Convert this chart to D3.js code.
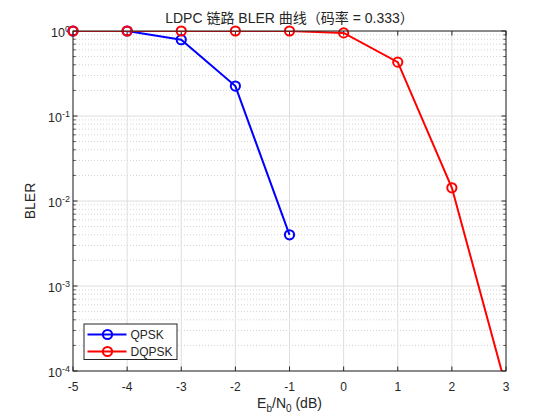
<!DOCTYPE html>
<html>
<head>
<meta charset="utf-8">
<script src="https://cdn.jsdelivr.net/npm/d3@7"></script>
<style>
  html, body { margin: 0; padding: 0; background: #fff; }
  svg { display: block; }
  text { font-family: "Liberation Sans", Arial, "Noto Sans CJK SC", sans-serif; fill: #262626; }
</style>
</head>
<body>
<div id="chart"></div>
<script>
// LDPC BLER curves, log-y plot
const ebn0 = [-5, -4, -3, -2, -1, 0, 1, 2, 3];
const qpsk = [1, 1, 0.79, 0.225, 0.0040];
const dqpsk = [1, 1, 1, 1, 1, 0.95, 0.43, 0.0143, 6.5e-5];
const xTicks = [-5, -4, -3, -2, -1, 0, 1, 2, 3];
const yDecades = [0, -1, -2, -3, -4];
const seriesNames = ["QPSK", "DQPSK"];
const seriesColors = ["#0000ff", "#ff0000"];

(function () {
  const W = 560, H = 420;
  const m = { l: 73, r: 54, t: 31, b: 49 };
  const pw = W - m.l - m.r, ph = H - m.t - m.b;

  const svg = d3.select("#chart").append("svg")
    .attr("width", W).attr("height", H);

  svg.append("defs").append("clipPath").attr("id", "plotClip")
    .append("rect").attr("width", pw).attr("height", ph);

  const g = svg.append("g").attr("transform", `translate(${m.l},${m.t})`);

  const x = d3.scaleLinear().domain([-5, 3]).range([0, pw]);
  const y = d3.scaleLog().domain([1e-4, 1]).range([ph, 0]);

  const minorVals = [];
  yDecades.slice(1).forEach(e => {
    for (let k = 2; k <= 9; k++) minorVals.push(k * Math.pow(10, e));
  });

  // minor grid (dotted)
  g.selectAll(".ymg").data(minorVals).join("line")
    .attr("x1", 0).attr("x2", pw)
    .attr("y1", d => y(d)).attr("y2", d => y(d))
    .attr("stroke", "#c8c8c8").attr("stroke-width", 0.8)
    .attr("stroke-dasharray", "1,2");

  // major grid
  g.selectAll(".xg").data(xTicks).join("line")
    .attr("x1", d => x(d)).attr("x2", d => x(d))
    .attr("y1", 0).attr("y2", ph)
    .attr("stroke", "#dedede").attr("stroke-width", 1);
  g.selectAll(".yg").data(yDecades.map(e => Math.pow(10, e))).join("line")
    .attr("x1", 0).attr("x2", pw)
    .attr("y1", d => y(d)).attr("y2", d => y(d))
    .attr("stroke", "#dedede").attr("stroke-width", 1);

  // ticks (inward, on all four sides)
  const tk = 4.5, tkm = 2.7;
  xTicks.forEach(v => {
    [[ph, ph - tk], [0, tk]].forEach(([a, b]) =>
      g.append("line").attr("x1", x(v)).attr("x2", x(v)).attr("y1", a).attr("y2", b)
        .attr("stroke", "#262626").attr("stroke-width", 1));
  });
  yDecades.forEach(e => {
    const yy = y(Math.pow(10, e));
    [[0, tk], [pw, pw - tk]].forEach(([a, b]) =>
      g.append("line").attr("x1", a).attr("x2", b).attr("y1", yy).attr("y2", yy)
        .attr("stroke", "#262626").attr("stroke-width", 1));
  });
  minorVals.forEach(v => {
    const yy = y(v);
    [[0, tkm], [pw, pw - tkm]].forEach(([a, b]) =>
      g.append("line").attr("x1", a).attr("x2", b).attr("y1", yy).attr("y2", yy)
        .attr("stroke", "#262626").attr("stroke-width", 0.8));
  });

  // tick labels
  g.selectAll(".xl").data(xTicks).join("text")
    .attr("x", d => x(d)).attr("y", ph + 19.5)
    .attr("text-anchor", "middle").attr("font-size", "12px")
    .text(d => d);

  yDecades.forEach(e => {
    const t = g.append("text")
      .attr("x", -3).attr("y", y(Math.pow(10, e)) + 6)
      .attr("text-anchor", "end").attr("font-size", "12.5px");
    t.append("tspan").text("10");
    t.append("tspan").attr("dy", -5.5).attr("font-size", "9px").text(e);
  });

  // data lines
  const series = [qpsk, dqpsk];
  const line = d3.line().x(d => x(d[0])).y(d => y(d[1]));
  series.forEach((vals, i) => {
    const pts = vals.map((v, j) => [ebn0[j], v]);
    g.append("path").datum(pts)
      .attr("clip-path", "url(#plotClip)")
      .attr("d", line).attr("fill", "none")
      .attr("stroke", seriesColors[i]).attr("stroke-width", 2);
    g.selectAll(null).data(pts.filter(p => p[1] >= 1e-4 && p[1] <= 1)).join("circle")
      .attr("cx", d => x(d[0])).attr("cy", d => y(d[1])).attr("r", 4.6)
      .attr("fill", "none").attr("stroke", seriesColors[i]).attr("stroke-width", 2);
  });

  // axes box
  g.append("rect").attr("width", pw).attr("height", ph)
    .attr("fill", "none").attr("stroke", "#262626").attr("stroke-width", 1);

  // legend
  const lg = g.append("g").attr("transform", `translate(${84 - m.l},${324 - m.t})`);
  lg.append("rect").attr("width", 93).attr("height", 35.5)
    .attr("fill", "#fff").attr("stroke", "#262626").attr("stroke-width", 1);
  seriesNames.forEach((name, i) => {
    const yy = 10.5 + i * 17;
    lg.append("line").attr("x1", 3.5).attr("x2", 42.5).attr("y1", yy).attr("y2", yy)
      .attr("stroke", seriesColors[i]).attr("stroke-width", 2);
    lg.append("circle").attr("cx", 23.5).attr("cy", yy).attr("r", 4.6)
      .attr("fill", "none").attr("stroke", seriesColors[i]).attr("stroke-width", 2);
    lg.append("text").attr("x", 46.5).attr("y", yy + 4.3)
      .attr("font-size", "12px").text(name);
  });

  // title and axis labels
  svg.append("text")
    .attr("x", m.l + pw / 2).attr("y", 23)
    .attr("text-anchor", "middle").attr("font-size", "14px")
    .text("LDPC 链路 BLER 曲线（码率 = 0.333）");

  const xl = svg.append("text")
    .attr("x", m.l + pw / 2).attr("y", 408)
    .attr("text-anchor", "middle").attr("font-size", "14px");
  xl.append("tspan").text("E");
  xl.append("tspan").attr("dy", 4).attr("font-size", "10px").text("b");
  xl.append("tspan").attr("dy", -4).text("/N");
  xl.append("tspan").attr("dy", 4).attr("font-size", "10px").text("0");
  xl.append("tspan").attr("dy", -4).text(" (dB)");

  svg.append("text")
    .attr("transform", `translate(35,${m.t + ph / 2}) rotate(-90)`)
    .attr("text-anchor", "middle").attr("font-size", "14px")
    .text("BLER");
})();
</script>
</body>
</html>
